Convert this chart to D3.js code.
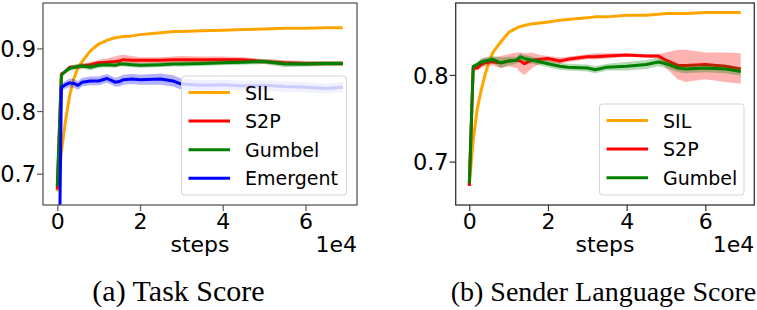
<!DOCTYPE html>
<html>
<head>
<meta charset="utf-8">
<script src="https://cdn.jsdelivr.net/npm/d3@7"></script>
<style>
  html, body { margin: 0; padding: 0; background: #fff; }
  svg { display: block; }
</style>
</head>
<body>
<svg id="chart" width="757" height="310"></svg>
<script>
// ---------------- DATA (steps in units of 1e4) ----------------
const seriesNames = ["SIL", "S2P", "Gumbel", "Emergent"];
const seriesColors = { SIL: "#FFA500", S2P: "#FF0000", Gumbel: "#008000", Emergent: "#0000FF" };

const xTicks = [0, 2, 4, 6];
const xTickLabels = ["0", "2", "4", "6"];
const taskYTicks = [0.7, 0.8, 0.9];
const taskYTickLabels = ["0.7", "0.8", "0.9"];
const senderYTicks = [0.7, 0.8];
const senderYTickLabels = ["0.7", "0.8"];

// Panel (a) Task Score
const taskSteps = [0, 0.1, 0.2, 0.3, 0.4, 0.5, 0.6, 0.8, 1.0, 1.2, 1.4, 1.5, 1.6, 1.8, 2.0, 2.5, 2.8, 3.0, 3.5, 4.0, 4.5, 5.0, 5.5, 6.0, 6.5, 6.9];
const taskSIL = [0.672, 0.735, 0.785, 0.825, 0.852, 0.869, 0.879, 0.896, 0.907, 0.913, 0.917, 0.918, 0.919, 0.920, 0.922, 0.925, 0.927, 0.927, 0.928, 0.929, 0.930, 0.931, 0.932, 0.932, 0.933, 0.933];
const taskS2P = [0.675, 0.859, 0.863, 0.870, 0.870, 0.871, 0.872, 0.874, 0.877, 0.878, 0.879, 0.880, 0.882, 0.881, 0.881, 0.881, 0.882, 0.882, 0.882, 0.882, 0.882, 0.879, 0.877, 0.876, 0.876, 0.876];
const taskS2PSpread = [0.002, 0.002, 0.003, 0.003, 0.003, 0.004, 0.004, 0.004, 0.005, 0.006, 0.008, 0.009, 0.008, 0.007, 0.005, 0.005, 0.005, 0.006, 0.005, 0.005, 0.004, 0.004, 0.004, 0.004, 0.004, 0.004];
const taskGumbel = [0.680, 0.857, 0.864, 0.868, 0.870, 0.871, 0.872, 0.870, 0.873, 0.874, 0.873, 0.875, 0.875, 0.874, 0.873, 0.874, 0.875, 0.875, 0.876, 0.877, 0.878, 0.879, 0.875, 0.875, 0.876, 0.876];
const taskGumbelSpread = [0.002, 0.002, 0.003, 0.004, 0.004, 0.004, 0.004, 0.005, 0.004, 0.004, 0.004, 0.004, 0.004, 0.004, 0.004, 0.004, 0.004, 0.004, 0.004, 0.004, 0.004, 0.004, 0.005, 0.004, 0.004, 0.004];
const taskEmergent = [0.300, 0.838, 0.842, 0.845, 0.844, 0.841, 0.846, 0.848, 0.848, 0.852, 0.846, 0.847, 0.850, 0.851, 0.850, 0.851, 0.848, 0.843, 0.841, 0.842, 0.840, 0.841, 0.839, 0.838, 0.836, 0.838];
const taskEmergentSpread = [0.010, 0.006, 0.006, 0.007, 0.007, 0.007, 0.007, 0.007, 0.007, 0.007, 0.007, 0.008, 0.008, 0.008, 0.008, 0.009, 0.009, 0.009, 0.008, 0.008, 0.008, 0.008, 0.008, 0.008, 0.008, 0.008];

// Panel (b) Sender Language Score
const senderSteps = [0, 0.1, 0.2, 0.3, 0.4, 0.5, 0.6, 0.8, 1.0, 1.2, 1.3, 1.4, 1.6, 1.8, 2.0, 2.3, 2.5, 3.0, 3.2, 3.5, 4.0, 4.5, 4.8, 5.0, 5.3, 5.5, 6.0, 6.5, 6.9];
const senderSIL = [0.672, 0.725, 0.760, 0.782, 0.800, 0.815, 0.826, 0.838, 0.849, 0.854, 0.856, 0.857, 0.859, 0.860, 0.861, 0.863, 0.864, 0.866, 0.867, 0.867, 0.869, 0.869, 0.870, 0.871, 0.871, 0.871, 0.872, 0.872, 0.872];
const senderS2P = [0.672, 0.808, 0.808, 0.812, 0.814, 0.815, 0.815, 0.814, 0.816, 0.817, 0.816, 0.813, 0.817, 0.818, 0.819, 0.816, 0.818, 0.821, 0.821, 0.822, 0.823, 0.822, 0.822, 0.817, 0.811, 0.811, 0.812, 0.810, 0.807];
const senderS2PSpreadUp = [0.001, 0.002, 0.004, 0.006, 0.006, 0.005, 0.005, 0.008, 0.008, 0.009, 0.010, 0.012, 0.009, 0.005, 0.003, 0.004, 0.003, 0.003, 0.004, 0.003, 0.002, 0.002, 0.002, 0.009, 0.018, 0.018, 0.014, 0.016, 0.018];
const senderS2PSpreadDown = [0.001, 0.002, 0.003, 0.004, 0.004, 0.004, 0.004, 0.006, 0.006, 0.009, 0.013, 0.013, 0.009, 0.005, 0.004, 0.003, 0.003, 0.003, 0.003, 0.003, 0.002, 0.002, 0.003, 0.009, 0.016, 0.019, 0.017, 0.018, 0.017];
const senderGumbel = [0.675, 0.810, 0.812, 0.815, 0.816, 0.817, 0.818, 0.814, 0.816, 0.817, 0.821, 0.819, 0.817, 0.815, 0.813, 0.810, 0.809, 0.808, 0.806, 0.809, 0.810, 0.812, 0.815, 0.813, 0.808, 0.807, 0.808, 0.807, 0.804];
const senderGumbelSpread = [0.002, 0.002, 0.003, 0.004, 0.004, 0.004, 0.004, 0.006, 0.005, 0.004, 0.004, 0.004, 0.004, 0.004, 0.004, 0.004, 0.004, 0.004, 0.004, 0.004, 0.005, 0.005, 0.005, 0.005, 0.005, 0.005, 0.005, 0.005, 0.005];

const xLabel = "steps";
const xOffsetLabel = "1e4";
const captions = ["(a) Task Score", "(b) Sender Language Score"];

// ---------------- LAYOUT ----------------
const svg = d3.select("#chart");
const TICK_FONT = "DejaVu Sans, sans-serif";

function buildSeries(steps, vals, up, down) {
  return steps.map((s, i) => ({
    x: s, y: vals[i],
    hi: up ? vals[i] + up[i] : null,
    lo: up ? vals[i] - (down ? down[i] : up[i]) : null
  }));
}

const panels = [
  {
    id: "a", left: 43, right: 357, top: 3, bottom: 205,
    yDomain: [0.65, 0.9725], yTicks: taskYTicks, yTickLabels: taskYTickLabels,
    spineColor: "#5a5a5a",
    series: [
      { name: "SIL", data: buildSeries(taskSteps, taskSIL) },
      { name: "S2P", data: buildSeries(taskSteps, taskS2P, taskS2PSpread) },
      { name: "Gumbel", data: buildSeries(taskSteps, taskGumbel, taskGumbelSpread) },
      { name: "Emergent", data: buildSeries(taskSteps, taskEmergent, taskEmergentSpread) }
    ],
    legend: { x: 181.5, y: 76, w: 165, h: 119, names: ["SIL", "S2P", "Gumbel", "Emergent"] },
    caption: { text: captions[0], cx: 178.5, size: 30 }
  },
  {
    id: "b", left: 455.7, right: 754.3, top: 3, bottom: 205,
    yDomain: [0.65, 0.883], yTicks: senderYTicks, yTickLabels: senderYTickLabels,
    spineColor: "#333",
    series: [
      { name: "SIL", data: buildSeries(senderSteps, senderSIL) },
      { name: "S2P", data: buildSeries(senderSteps, senderS2P, senderS2PSpreadUp, senderS2PSpreadDown) },
      { name: "Gumbel", data: buildSeries(senderSteps, senderGumbel, senderGumbelSpread) }
    ],
    legend: { x: 599.5, y: 104, w: 144.5, h: 91, names: ["SIL", "S2P", "Gumbel"] },
    caption: { text: captions[1], cx: 603.5, size: 28 }
  }
];

panels.forEach(p => {
  const x = d3.scaleLinear().domain([-0.345, 7.245]).range([p.left, p.right]);
  const y = d3.scaleLinear().domain(p.yDomain).range([p.bottom, p.top]);
  const g = svg.append("g");

  const clipId = "clip-" + p.id;
  svg.append("defs").append("clipPath").attr("id", clipId)
    .append("rect").attr("x", p.left).attr("y", p.top)
    .attr("width", p.right - p.left).attr("height", p.bottom - p.top);

  const plot = g.append("g").attr("clip-path", `url(#${clipId})`);

  const area = d3.area().x(d => x(d.x)).y0(d => y(d.lo)).y1(d => y(d.hi));
  const line = d3.line().x(d => x(d.x)).y(d => y(d.y));

  p.series.forEach(s => {
    if (s.data[0].hi !== null) {
      plot.append("path").datum(s.data).attr("d", area)
        .attr("fill", seriesColors[s.name]).attr("fill-opacity", 0.3).attr("stroke", "none");
    }
    plot.append("path").datum(s.data).attr("d", line)
      .attr("fill", "none").attr("stroke", seriesColors[s.name])
      .attr("stroke-width", 3).attr("stroke-linejoin", "round");
  });

  // spines
  g.append("rect").attr("x", p.left).attr("y", p.top)
    .attr("width", p.right - p.left).attr("height", p.bottom - p.top)
    .attr("fill", "none").attr("stroke", p.spineColor).attr("stroke-width", 1.3);

  // x axis
  const xAxis = d3.axisBottom(x).tickValues(xTicks)
    .tickFormat((d, i) => xTickLabels[i]).tickSize(6).tickPadding(4);
  const gx = g.append("g").attr("transform", `translate(0,${p.bottom})`).call(xAxis);
  gx.select(".domain").remove();
  gx.selectAll(".tick line").attr("stroke", p.spineColor).attr("stroke-width", 1.2);
  gx.selectAll(".tick text").attr("font-family", TICK_FONT).attr("font-size", 22)
    .attr("fill", "#000").attr("dy", null).attr("y", null)
    .attr("transform", "translate(0,24)");

  // y axis
  const yAxis = d3.axisLeft(y).tickValues(p.yTicks)
    .tickFormat((d, i) => p.yTickLabels[i]).tickSize(6).tickPadding(3);
  const gy = g.append("g").attr("transform", `translate(${p.left},0)`).call(yAxis);
  gy.select(".domain").remove();
  gy.selectAll(".tick line").attr("stroke", p.spineColor).attr("stroke-width", 1.2);
  gy.selectAll(".tick text").attr("font-family", TICK_FONT).attr("font-size", 22.5)
    .attr("fill", "#000").attr("x", -7).attr("dy", "0.36em");

  // axis labels
  g.append("text").attr("x", (p.left + p.right) / 2).attr("y", 252)
    .attr("text-anchor", "middle").attr("font-family", TICK_FONT).attr("font-size", 22)
    .text(xLabel);
  g.append("text").attr("x", p.right).attr("y", 252)
    .attr("text-anchor", "end").attr("font-family", TICK_FONT).attr("font-size", 22)
    .text(xOffsetLabel);

  // legend
  const L = p.legend;
  const lg = g.append("g");
  lg.append("rect").attr("x", L.x).attr("y", L.y).attr("width", L.w).attr("height", L.h)
    .attr("rx", 3).attr("fill", "#fff").attr("fill-opacity", 0.8)
    .attr("stroke", "#d4d4d4").attr("stroke-width", 1);
  L.names.forEach((n, i) => {
    const cy = L.y + 16.5 + i * 28.6;
    lg.append("line").attr("x1", L.x + 7).attr("x2", L.x + 48.5)
      .attr("y1", cy).attr("y2", cy)
      .attr("stroke", seriesColors[n]).attr("stroke-width", 3);
    lg.append("text").attr("x", L.x + 63.5).attr("y", cy + 7)
      .attr("font-family", TICK_FONT).attr("font-size", 19).attr("fill", "#000")
      .text(n);
  });

  // caption
  svg.append("text").attr("x", p.caption.cx).attr("y", 301)
    .attr("text-anchor", "middle").attr("font-family", "Liberation Serif, Times New Roman, serif")
    .attr("font-size", p.caption.size).attr("fill", "#000").text(p.caption.text);
});
</script>
</body>
</html>
